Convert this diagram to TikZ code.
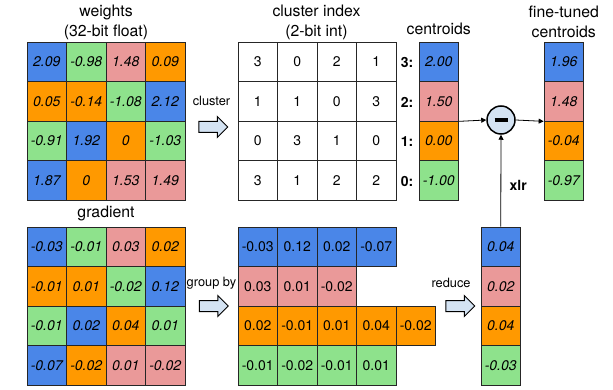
\documentclass[tikz,border=0pt]{standalone}
\usepackage{fontspec}
\setmainfont{TeX Gyre Heros}
\usetikzlibrary{arrows.meta,shapes.arrows}
\definecolor{c0}{HTML}{8EE28C}
\definecolor{c1}{HTML}{FF9900}
\definecolor{c2}{HTML}{EA9999}
\definecolor{c3}{HTML}{4A86E8}
\definecolor{lightblue}{HTML}{D4E3F3}

\begin{document}
\begin{tikzpicture}[x=1pt,y=-1pt,
    cell/.style={draw=black!85,line width=0.7pt,minimum size=39.5pt,inner sep=0pt,
      font=\fontsize{14}{16}\selectfont},
    num/.style={cell,font=\fontsize{14}{16}\selectfont\itshape},
    title/.style={align=center,font=\fontsize{15.8}{20}\selectfont},
    lbl/.style={font=\fontsize{12.8}{15}\selectfont},
    key/.style={font=\fontsize{14}{16}\selectfont\bfseries},
    blockarrow/.style={single arrow,draw,line width=1pt,fill=lightblue,inner sep=5pt,
      single arrow head extend=5pt,single arrow head indent=0pt,minimum height=29pt},
    conn/.style={line width=0.8pt,-{Triangle[length=5pt,width=5pt]}}]
  \useasboundingbox (0,0) rectangle (613,390);

  \foreach \row [count=\i] in {{3/2.09,0/-0.98,2/1.48,1/0.09},{1/0.05,1/-0.14,0/-1.08,3/2.12},
      {0/-0.91,3/1.92,1/0,0/-1.03},{3/1.87,1/0,2/1.53,2/1.49}}
    \foreach \c/\v [count=\j] in \row {
      \node[num,fill=c\c] (w-\i-\j) at ({27+39.5*(\j-0.5)},{42+39.5*(\i-0.5)}) {\v};
      \node[cell] (ci-\i-\j) at ({238+39.5*(\j-0.5)},{42+39.5*(\i-0.5)}) {\c};
    }
  \foreach \row [count=\i] in {{3/-0.03,0/-0.01,2/0.03,1/0.02},{1/-0.01,1/0.01,0/-0.02,3/0.12},
      {0/-0.01,3/0.02,1/0.04,0/0.01},{3/-0.07,1/-0.02,2/0.01,2/-0.02}}
    \foreach \c/\v [count=\j] in \row
      \node[num,fill=c\c] (gr-\i-\j) at ({27+39.5*(\j-0.5)},{227+39.5*(\i-0.5)}) {\v};
  \foreach \row [count=\i] in {{-0.03,0.12,0.02,-0.07},{0.03,0.01,-0.02},
      {0.02,-0.01,0.01,0.04,-0.02},{-0.01,-0.02,-0.01,0.01}} {
    \pgfmathtruncatemacro\c{4-\i}
    \foreach \v [count=\j] in \row
      \node[cell,fill=c\c] (g-\i-\j) at ({238+39.5*(\j-0.5)},{227+39.5*(\i-0.5)}) {\v};
  }
  \foreach \cv/\fv/\rv [count=\i] in {2.00/1.96/0.04,1.50/1.48/0.02,0.00/-0.04/0.04,-1.00/-0.97/-0.03} {
    \pgfmathtruncatemacro\c{4-\i}
    \node[key] (k-\i) at (407,{43+39.5*(\i-0.5)}) {\c:};
    \node[num,fill=c\c] (cen-\i) at (438.75,{42+39.5*(\i-0.5)}) {\cv};
    \node[num,fill=c\c] (ft-\i) at (563.75,{42+39.5*(\i-0.5)}) {\fv};
    \node[num,fill=c\c] (red-\i) at (500.75,{227+39.5*(\i-0.5)}) {\rv};
  }

  \node[title] (wt) at (106,22) {weights\\(32-bit float)};
  \node[title] (cit) at (316.5,22) {cluster index\\(2-bit int)};
  \node[title] (cent) at (438.75,29) {centroids};
  \node[title] (ftt) at (563.75,22) {fine-tuned\\centroids};
  \node[title] (grt) at (106,213) {gradient};

  \node[lbl] (cl) at (211.5,101) {cluster};
  \node[blockarrow] (a1) at (210.5,127) {};
  \node[lbl] (gb) at (211.5,283) {group by};
  \node[blockarrow] (a2) at (211,306) {};
  \node[lbl] (rd) at (451,283) {reduce};
  \node[blockarrow] (a3) at (457.5,306) {};

  \node[circle,draw,line width=1.5pt,fill=lightblue,minimum size=28pt,inner sep=0pt] (minus) at (501,120) {};
  \draw[line width=3.2pt] ([xshift=-6.5pt]minus.center) -- ([xshift=6.5pt]minus.center);
  \draw[conn] (cen-2.south east) -- (minus.west);
  \draw[conn] (minus.east) -- (ft-2.south west);
  \draw[conn] (red-1.north) -- (minus.south) node[pos=0.45,right=5pt,key]{xlr};
\end{tikzpicture}
\end{document}
